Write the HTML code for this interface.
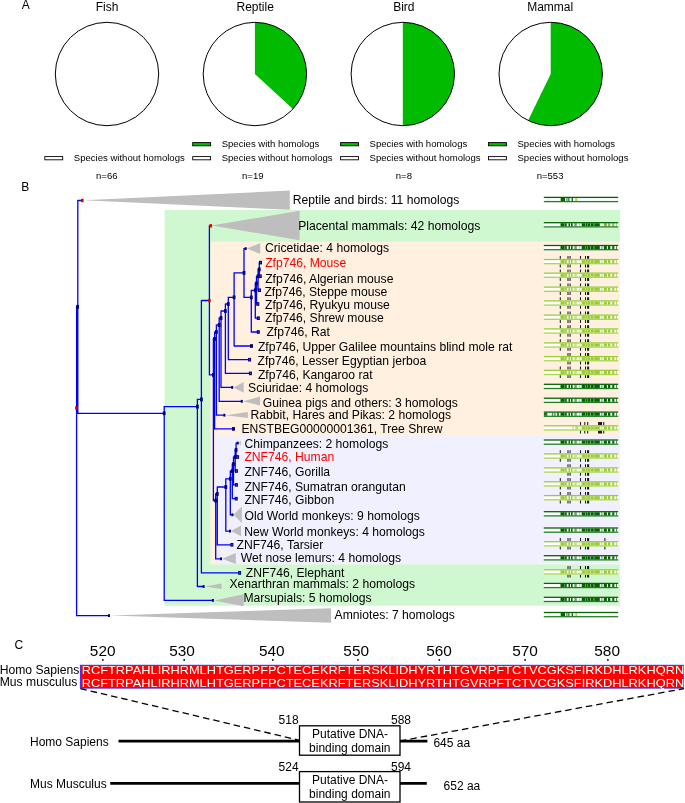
<!DOCTYPE html>
<html><head><meta charset="utf-8"><title>ZNF746 homologs</title>
<style>
html,body{margin:0;padding:0;background:#fff;}
svg{display:block;font-family:"Liberation Sans", Arial, sans-serif;}
text{fill:#000;}
.t12{font-size:12px;}
.tl{font-size:12.15px;}
.leg{font-size:9.55px;}
.seq{font-size:11.6px;fill:#fff;}
.rul{font-size:14px;text-anchor:middle;}
</style></head><body>
<svg width="685" height="803" viewBox="0 0 685 803">
<rect width="685" height="803" fill="#fff"/>
<text class="t12" x="21.8" y="8.8">A</text>
<text class="t12" x="107.0" y="10.8" text-anchor="middle">Fish</text>
<circle cx="107.0" cy="74.0" r="51.7" fill="#fff"/>
<circle cx="107.0" cy="74.0" r="51.7" fill="none" stroke="#000" stroke-width="1"/>
<rect x="44.8" y="156.6" width="17.9" height="3.2" fill="#fff" stroke="#000" stroke-width="0.9"/>
<text class="leg" x="73.8" y="161.1">Species without homologs</text>
<text class="leg" x="106.8" y="178.8" text-anchor="middle">n=66</text>
<text class="t12" x="255.2" y="10.8" text-anchor="middle">Reptile</text>
<circle cx="254.9" cy="74.0" r="51.7" fill="#fff"/>
<path d="M254.9,74.0 L254.9,22.299999999999997 A51.7,51.7 0 0 1 292.94,109.02 Z" fill="#00bb00"/>
<circle cx="254.9" cy="74.0" r="51.7" fill="none" stroke="#000" stroke-width="1"/>
<rect x="192.7" y="142.6" width="17.9" height="3.2" fill="#00bb00" stroke="#000" stroke-width="0.9"/>
<text class="leg" x="221.7" y="147.1">Species with homologs</text>
<rect x="192.7" y="156.6" width="17.9" height="3.2" fill="#fff" stroke="#000" stroke-width="0.9"/>
<text class="leg" x="221.7" y="161.1">Species without homologs</text>
<text class="leg" x="252.8" y="178.8" text-anchor="middle">n=19</text>
<text class="t12" x="403.8" y="10.8" text-anchor="middle">Bird</text>
<circle cx="402.8" cy="74.0" r="51.7" fill="#fff"/>
<path d="M402.8,74.0 L402.8,22.299999999999997 A51.7,51.7 0 0 1 402.80,125.70 Z" fill="#00bb00"/>
<circle cx="402.8" cy="74.0" r="51.7" fill="none" stroke="#000" stroke-width="1"/>
<rect x="340.6" y="142.6" width="17.9" height="3.2" fill="#00bb00" stroke="#000" stroke-width="0.9"/>
<text class="leg" x="369.6" y="147.1">Species with homologs</text>
<rect x="340.6" y="156.6" width="17.9" height="3.2" fill="#fff" stroke="#000" stroke-width="0.9"/>
<text class="leg" x="369.6" y="161.1">Species without homologs</text>
<text class="leg" x="403.9" y="178.8" text-anchor="middle">n=8</text>
<text class="t12" x="550.2" y="11.2" text-anchor="middle">Mammal</text>
<circle cx="550.7" cy="74.0" r="51.7" fill="#fff"/>
<path d="M550.7,74.0 L550.7,22.299999999999997 A51.7,51.7 0 1 1 528.10,120.50 Z" fill="#00bb00"/>
<circle cx="550.7" cy="74.0" r="51.7" fill="none" stroke="#000" stroke-width="1"/>
<rect x="488.5" y="142.6" width="17.9" height="3.2" fill="#00bb00" stroke="#000" stroke-width="0.9"/>
<text class="leg" x="517.5" y="147.1">Species with homologs</text>
<rect x="488.5" y="156.6" width="17.9" height="3.2" fill="#fff" stroke="#000" stroke-width="0.9"/>
<text class="leg" x="517.5" y="161.1">Species without homologs</text>
<text class="leg" x="550.1" y="178.8" text-anchor="middle">n=553</text>
<text class="t12" x="21.2" y="190.8">B</text>
<rect x="164.6" y="210" width="455.3" height="395.7" fill="#d0f8d0"/>
<rect x="210.4" y="241.7" width="409.5" height="322.6" fill="#fff0e0"/>
<rect x="215.3" y="436" width="404.6" height="128.3" fill="#f0f0ff"/>
<polygon points="83.5,200.3 289.8,190.6 289.8,209.8" fill="#bebebe"/>
<polygon points="211.8,225.6 299.6,210.7 299.6,240.2" fill="#bebebe"/>
<polygon points="246.8,248.6 260.2,243.1 260.2,254.0" fill="#bebebe"/>
<polygon points="233.5,387.4 243.7,381.9 243.7,392.8" fill="#bebebe"/>
<polygon points="243.0,401.3 260.0,396.6 260.0,405.6" fill="#bebebe"/>
<polygon points="225.5,415.2 247.9,412.0 247.9,418.0" fill="#bebebe"/>
<polygon points="238.8,443.1 240.9,440.5 240.9,445.8" fill="#bebebe"/>
<polygon points="233.6,514.8 241.8,506.4 241.8,523.0" fill="#bebebe"/>
<polygon points="231.0,531.1 241.0,525.5 241.0,536.2" fill="#bebebe"/>
<polygon points="222.0,558.8 235.8,553.0 235.8,564.0" fill="#bebebe"/>
<polygon points="204.6,586.5 221.6,583.4 221.6,589.0" fill="#bebebe"/>
<polygon points="214.0,600.4 243.7,594.3 243.7,606.2" fill="#bebebe"/>
<polygon points="110.0,615.6 331.1,608.2 331.1,622.8" fill="#bebebe"/>
<path d="M76.6,306.2V616.2M77.8,199.9V413.9M164.2,406.0V601.0M197.4,398.8V587.1M201.4,299.9V573.5M209.4,225.2V375.5M213.4,338.3V501.2M214.6,331.4V429.5M216.4,324.4V415.8M219.2,317.4V401.9M221.0,310.4V388.0M225.4,303.4V374.0M228.3,296.7V360.3M234.1,272.3V346.6M244.0,248.0V298.0M251.3,289.7V332.6M255.3,282.8V318.8M256.5,275.7V304.6M258.1,268.8V290.8M259.3,262.0V276.8M215.7,493.3V559.4M217.3,486.4V545.4M225.8,478.2V531.7M230.3,470.4V515.4M232.3,463.4V499.3M233.5,456.4V485.5M235.2,449.4V471.6M236.1,442.5V457.6M77.8,200.5H82M77.8,413.3H164.2M76.6,615.6H109M164.2,406.6H197.4M164.2,600.4H212.9M197.4,399.4H201.4M197.4,586.5H203.6M201.4,300.5H209.4M201.4,572.9H239.6M209.4,225.8H211M209.4,374.9H213.4M213.4,338.9H214.6M213.4,500.6H215.7M214.6,332.0H216.4M214.6,428.9H233.5M216.4,325.0H219.2M216.4,415.2H224.4M219.2,318.0H221.0M219.2,401.3H241.8M221.0,311.0H225.4M221.0,387.4H232.2M225.4,304.0H228.3M225.4,373.4H250.4M228.3,297.3H234.1M228.3,359.7H249.6M234.1,272.9H244.0M234.1,346.0H251.5M244.0,248.6H245.7M244.0,297.4H251.3M251.3,290.3H255.3M251.3,332.0H258.3M255.3,283.4H256.5M255.3,318.2H258.3M256.5,276.3H258.1M256.5,304.0H257.8M258.1,269.4H259.3M258.1,290.2H259.4M259.3,262.6H260.5M259.3,276.2H260.2M215.7,493.9H217.3M215.7,558.8H221.0M217.3,487.0H225.8M217.3,544.8H231.9M225.8,478.8H230.3M225.8,531.1H230.0M230.3,471.0H232.3M230.3,514.8H232.5M232.3,464.0H233.5M232.3,498.7H236.2M233.5,457.0H235.2M233.5,484.9H236.4M235.2,450.0H236.1M235.2,471.0H236.4M236.1,443.1H237.8M236.1,457.0H237.6" fill="none" stroke="#0000ff" stroke-width="1.3"/>
<rect x="76.2" y="304.9" width="2.8" height="3.8" fill="#000080"/>
<rect x="162.8" y="411.4" width="2.8" height="3.8" fill="#000080"/>
<rect x="196.0" y="404.7" width="2.8" height="3.8" fill="#000080"/>
<rect x="200.0" y="397.5" width="2.8" height="3.8" fill="#000080"/>
<rect x="212.0" y="373.0" width="2.8" height="3.8" fill="#000080"/>
<rect x="213.2" y="337.0" width="2.8" height="3.8" fill="#000080"/>
<rect x="215.0" y="330.1" width="2.8" height="3.8" fill="#000080"/>
<rect x="217.8" y="323.1" width="2.8" height="3.8" fill="#000080"/>
<rect x="219.6" y="316.1" width="2.8" height="3.8" fill="#000080"/>
<rect x="224.0" y="309.1" width="2.8" height="3.8" fill="#000080"/>
<rect x="226.9" y="302.1" width="2.8" height="3.8" fill="#000080"/>
<rect x="232.7" y="295.4" width="2.8" height="3.8" fill="#000080"/>
<rect x="242.6" y="271.0" width="2.8" height="3.8" fill="#000080"/>
<rect x="249.9" y="295.5" width="2.8" height="3.8" fill="#000080"/>
<rect x="253.9" y="288.4" width="2.8" height="3.8" fill="#000080"/>
<rect x="255.1" y="281.5" width="2.8" height="3.8" fill="#000080"/>
<rect x="256.7" y="274.4" width="2.8" height="3.8" fill="#000080"/>
<rect x="257.9" y="267.5" width="2.8" height="3.8" fill="#000080"/>
<rect x="214.3" y="498.7" width="2.8" height="3.8" fill="#000080"/>
<rect x="215.9" y="492.0" width="2.8" height="3.8" fill="#000080"/>
<rect x="224.4" y="485.1" width="2.8" height="3.8" fill="#000080"/>
<rect x="228.9" y="476.9" width="2.8" height="3.8" fill="#000080"/>
<rect x="230.9" y="469.1" width="2.8" height="3.8" fill="#000080"/>
<rect x="232.1" y="462.1" width="2.8" height="3.8" fill="#000080"/>
<rect x="233.8" y="455.1" width="2.8" height="3.8" fill="#000080"/>
<rect x="234.7" y="448.1" width="2.8" height="3.8" fill="#000080"/>
<rect x="244.7" y="247.2" width="2.0" height="2.8" fill="#000080"/>
<rect x="231.2" y="386.0" width="2.0" height="2.8" fill="#000080"/>
<rect x="240.8" y="399.9" width="2.0" height="2.8" fill="#000080"/>
<rect x="223.4" y="413.8" width="2.0" height="2.8" fill="#000080"/>
<rect x="236.8" y="441.7" width="2.0" height="2.8" fill="#000080"/>
<rect x="231.5" y="513.4" width="2.0" height="2.8" fill="#000080"/>
<rect x="229.0" y="529.7" width="2.0" height="2.8" fill="#000080"/>
<rect x="220.0" y="557.4" width="2.0" height="2.8" fill="#000080"/>
<rect x="202.6" y="585.1" width="2.0" height="2.8" fill="#000080"/>
<rect x="211.9" y="599.0" width="2.0" height="2.8" fill="#000080"/>
<rect x="108.0" y="614.2" width="2.0" height="2.8" fill="#000080"/>
<rect x="75.1" y="406.3" width="2.6" height="3.4" fill="#e00000"/>
<rect x="208.1" y="298.8" width="2.6" height="3.4" fill="#e00000"/>
<rect x="81.0" y="198.8" width="2.6" height="3.4" fill="#e00000"/>
<rect x="209.5" y="224.1" width="2.6" height="3.4" fill="#e00000"/>
<rect x="259.5" y="261.3" width="2.0" height="2.6" fill="#4a4aa8" stroke="#000080" stroke-width="1"/>
<rect x="259.2" y="274.9" width="2.0" height="2.6" fill="#4a4aa8" stroke="#000080" stroke-width="1"/>
<rect x="258.4" y="288.9" width="2.0" height="2.6" fill="#4a4aa8" stroke="#000080" stroke-width="1"/>
<rect x="256.8" y="302.7" width="2.0" height="2.6" fill="#4a4aa8" stroke="#000080" stroke-width="1"/>
<rect x="257.3" y="316.9" width="2.0" height="2.6" fill="#4a4aa8" stroke="#000080" stroke-width="1"/>
<rect x="257.3" y="330.7" width="2.0" height="2.6" fill="#4a4aa8" stroke="#000080" stroke-width="1"/>
<rect x="250.5" y="344.7" width="2.0" height="2.6" fill="#4a4aa8" stroke="#000080" stroke-width="1"/>
<rect x="248.6" y="358.4" width="2.0" height="2.6" fill="#4a4aa8" stroke="#000080" stroke-width="1"/>
<rect x="249.4" y="372.1" width="2.0" height="2.6" fill="#4a4aa8" stroke="#000080" stroke-width="1"/>
<rect x="232.5" y="427.6" width="2.0" height="2.6" fill="#4a4aa8" stroke="#000080" stroke-width="1"/>
<rect x="236.6" y="455.7" width="2.0" height="2.6" fill="#4a4aa8" stroke="#000080" stroke-width="1"/>
<rect x="235.4" y="469.7" width="2.0" height="2.6" fill="#4a4aa8" stroke="#000080" stroke-width="1"/>
<rect x="235.4" y="483.6" width="2.0" height="2.6" fill="#4a4aa8" stroke="#000080" stroke-width="1"/>
<rect x="235.2" y="497.4" width="2.0" height="2.6" fill="#4a4aa8" stroke="#000080" stroke-width="1"/>
<rect x="230.9" y="543.5" width="2.0" height="2.6" fill="#4a4aa8" stroke="#000080" stroke-width="1"/>
<rect x="238.6" y="571.6" width="2.0" height="2.6" fill="#4a4aa8" stroke="#000080" stroke-width="1"/>
<text class="tl" x="292.8" y="203.9">Reptile and birds: 11 homologs</text>
<text class="tl" x="298.2" y="229.9">Placental mammals: 42 homologs</text>
<text class="tl" x="264.9" y="252.4">Cricetidae: 4 homologs</text>
<text class="tl" x="265.2" y="267.2" fill="#ff0000" style="fill:#ff0000">Zfp746, Mouse</text>
<text class="tl" x="265.2" y="283.2">Zfp746, Algerian mouse</text>
<text class="tl" x="264.4" y="296.4">Zfp746, Steppe mouse</text>
<text class="tl" x="265.0" y="309.4">Zfp746, Ryukyu mouse</text>
<text class="tl" x="265.0" y="322.0">Zfp746, Shrew mouse</text>
<text class="tl" x="266.4" y="336.1">Zfp746, Rat</text>
<text class="tl" x="257.9" y="350.6">Zfp746, Upper Galilee mountains blind mole rat</text>
<text class="tl" x="257.5" y="365.0">Zfp746, Lesser Egyptian jerboa</text>
<text class="tl" x="257.9" y="378.6">Zfp746, Kangaroo rat</text>
<text class="tl" x="248.1" y="392.3">Sciuridae: 4 homologs</text>
<text class="tl" x="262.7" y="406.7">Guinea pigs and others: 3 homologs</text>
<text class="tl" x="250.6" y="419.3">Rabbit, Hares and Pikas: 2 homologs</text>
<text class="tl" x="241.5" y="433.0">ENSTBEG00000001361, Tree Shrew</text>
<text class="tl" x="244.5" y="447.5">Chimpanzees: 2 homologs</text>
<text class="tl" x="244.4" y="461.2" fill="#ff0000" style="fill:#ff0000">ZNF746, Human</text>
<text class="tl" x="244.4" y="476.0">ZNF746, Gorilla</text>
<text class="tl" x="244.4" y="490.9">ZNF746, Sumatran orangutan</text>
<text class="tl" x="244.4" y="504.4">ZNF746, Gibbon</text>
<text class="tl" x="244.6" y="520.2">Old World monkeys: 9 homologs</text>
<text class="tl" x="244.3" y="535.8">New World monkeys: 4 homologs</text>
<text class="tl" x="236.5" y="549.1">ZNF746, Tarsier</text>
<text class="tl" x="240.7" y="562.0">Wet nose lemurs: 4 homologs</text>
<text class="tl" x="245.8" y="577.1">ZNF746, Elephant</text>
<text class="tl" x="229.5" y="588.2">Xenarthran mammals: 2 homologs</text>
<text class="tl" x="243.4" y="602.4">Marsupials: 5 homologs</text>
<text class="tl" x="334.6" y="619.0">Amniotes: 7 homologs</text>
<rect x="543.8" y="196.75" width="74.4" height="5.5" fill="#fff"/>
<rect x="560.7" y="197.95" width="4.3" height="3.1" fill="#006400"/>
<rect x="566.5" y="197.95" width="0.9" height="3.1" fill="#006400"/>
<rect x="568.3" y="197.95" width="1.1" height="3.1" fill="#006400"/>
<rect x="571.6" y="197.95" width="1.4" height="3.1" fill="#006400" opacity="0.9"/>
<rect x="547.5" y="197.95" width="0.7" height="3.1" fill="#006400" opacity="0.15"/>
<rect x="549.5" y="197.95" width="0.7" height="3.1" fill="#006400" opacity="0.15"/>
<rect x="575.3" y="197.95" width="1.9" height="3.1" fill="#9acd32" opacity="0.8"/>
<rect x="543.8" y="196.75" width="74.4" height="1.3" fill="#006400"/>
<rect x="543.8" y="200.95" width="74.4" height="1.3" fill="#006400" opacity="0.85"/>
<rect x="543.8" y="222.05" width="74.4" height="5.5" fill="#fff"/>
<rect x="560.5" y="223.25" width="3.7" height="3.1" fill="#006400"/>
<rect x="564.2" y="223.25" width="0.9" height="3.1" fill="#006400" opacity="0.75"/>
<rect x="565.1" y="223.25" width="1.7" height="3.1" fill="#006400"/>
<rect x="568.5" y="223.25" width="1.5" height="3.1" fill="#006400"/>
<rect x="571.0" y="223.25" width="1.6" height="3.1" fill="#006400"/>
<rect x="574.3" y="223.25" width="2.5" height="3.1" fill="#006400" opacity="0.6"/>
<rect x="579.0" y="223.25" width="1.0" height="3.1" fill="#006400" opacity="0.3"/>
<rect x="581.7" y="223.25" width="3.4" height="3.1" fill="#006400"/>
<rect x="585.1" y="223.25" width="0.6" height="3.1" fill="#006400" opacity="0.65"/>
<rect x="585.7" y="223.25" width="1.7" height="3.1" fill="#006400"/>
<rect x="587.4" y="223.25" width="0.5" height="3.1" fill="#006400" opacity="0.8"/>
<rect x="587.9" y="223.25" width="2.1" height="3.1" fill="#006400"/>
<rect x="590.0" y="223.25" width="0.6" height="3.1" fill="#006400" opacity="0.35"/>
<rect x="590.6" y="223.25" width="3.1" height="3.1" fill="#006400"/>
<rect x="593.7" y="223.25" width="0.6" height="3.1" fill="#006400" opacity="0.6"/>
<rect x="594.3" y="223.25" width="5.5" height="3.1" fill="#006400"/>
<rect x="604.0" y="223.25" width="2.8" height="3.1" fill="#6aa81e" opacity="0.9"/>
<rect x="608.0" y="223.25" width="2.3" height="3.1" fill="#6aa81e" opacity="0.8"/>
<rect x="612.3" y="223.25" width="2.0" height="3.1" fill="#6aa81e" opacity="0.8"/>
<rect x="616.2" y="223.25" width="0.8" height="3.1" fill="#6aa81e" opacity="0.7"/>
<rect x="543.8" y="222.05" width="74.4" height="1.3" fill="#006400"/>
<rect x="543.8" y="226.25" width="74.4" height="1.3" fill="#006400" opacity="0.85"/>
<rect x="543.8" y="244.85" width="74.4" height="5.5" fill="#fff"/>
<rect x="560.5" y="246.05" width="3.7" height="3.1" fill="#006400"/>
<rect x="564.2" y="246.05" width="0.9" height="3.1" fill="#006400" opacity="0.75"/>
<rect x="565.1" y="246.05" width="1.7" height="3.1" fill="#006400"/>
<rect x="568.5" y="246.05" width="1.5" height="3.1" fill="#006400"/>
<rect x="571.0" y="246.05" width="1.6" height="3.1" fill="#006400"/>
<rect x="574.3" y="246.05" width="2.5" height="3.1" fill="#006400" opacity="0.6"/>
<rect x="579.0" y="246.05" width="1.0" height="3.1" fill="#006400" opacity="0.3"/>
<rect x="581.7" y="246.05" width="3.4" height="3.1" fill="#006400"/>
<rect x="585.1" y="246.05" width="0.6" height="3.1" fill="#006400" opacity="0.65"/>
<rect x="585.7" y="246.05" width="1.7" height="3.1" fill="#006400"/>
<rect x="587.4" y="246.05" width="0.5" height="3.1" fill="#006400" opacity="0.8"/>
<rect x="587.9" y="246.05" width="2.1" height="3.1" fill="#006400"/>
<rect x="590.0" y="246.05" width="0.6" height="3.1" fill="#006400" opacity="0.35"/>
<rect x="590.6" y="246.05" width="3.1" height="3.1" fill="#006400"/>
<rect x="593.7" y="246.05" width="0.6" height="3.1" fill="#006400" opacity="0.6"/>
<rect x="594.3" y="246.05" width="5.5" height="3.1" fill="#006400"/>
<rect x="601.5" y="246.05" width="0.8" height="3.1" fill="#006400" opacity="0.9"/>
<rect x="603.8" y="246.05" width="3.1" height="3.1" fill="#006400"/>
<rect x="608.0" y="246.05" width="2.3" height="3.1" fill="#006400"/>
<rect x="612.3" y="246.05" width="2.0" height="3.1" fill="#006400"/>
<rect x="616.2" y="246.05" width="0.8" height="3.1" fill="#006400" opacity="0.9"/>
<rect x="543.8" y="244.85" width="74.4" height="1.3" fill="#006400"/>
<rect x="543.8" y="249.05" width="74.4" height="1.3" fill="#006400" opacity="0.85"/>
<path d="M560.3,255.9V267.4M568.0,255.9V267.4M570.1,255.9V267.4M580.5,255.9V267.4M585.5,255.9V267.4M587.6,255.9V267.4M588.6,255.9V267.4" stroke="#1c1c1c" stroke-width="1.05" fill="none"/>
<rect x="543.8" y="258.85" width="74.4" height="5.5" fill="#fff"/>
<rect x="560.5" y="260.05" width="3.7" height="3.1" fill="#9acd32"/>
<rect x="564.2" y="260.05" width="0.9" height="3.1" fill="#9acd32" opacity="0.75"/>
<rect x="565.1" y="260.05" width="1.7" height="3.1" fill="#9acd32"/>
<rect x="568.5" y="260.05" width="1.5" height="3.1" fill="#9acd32"/>
<rect x="571.0" y="260.05" width="1.6" height="3.1" fill="#9acd32"/>
<rect x="574.3" y="260.05" width="2.5" height="3.1" fill="#9acd32" opacity="0.6"/>
<rect x="579.0" y="260.05" width="1.0" height="3.1" fill="#9acd32" opacity="0.3"/>
<rect x="581.7" y="260.05" width="3.4" height="3.1" fill="#9acd32"/>
<rect x="585.1" y="260.05" width="0.6" height="3.1" fill="#9acd32" opacity="0.65"/>
<rect x="585.7" y="260.05" width="1.7" height="3.1" fill="#9acd32"/>
<rect x="587.4" y="260.05" width="0.5" height="3.1" fill="#9acd32" opacity="0.8"/>
<rect x="587.9" y="260.05" width="2.1" height="3.1" fill="#9acd32"/>
<rect x="590.0" y="260.05" width="0.6" height="3.1" fill="#9acd32" opacity="0.35"/>
<rect x="590.6" y="260.05" width="3.1" height="3.1" fill="#9acd32"/>
<rect x="593.7" y="260.05" width="0.6" height="3.1" fill="#9acd32" opacity="0.6"/>
<rect x="594.3" y="260.05" width="5.5" height="3.1" fill="#9acd32"/>
<rect x="601.5" y="260.05" width="0.8" height="3.1" fill="#9acd32" opacity="0.9"/>
<rect x="603.8" y="260.05" width="3.1" height="3.1" fill="#9acd32"/>
<rect x="608.0" y="260.05" width="2.3" height="3.1" fill="#9acd32"/>
<rect x="612.3" y="260.05" width="2.0" height="3.1" fill="#9acd32"/>
<rect x="616.2" y="260.05" width="0.8" height="3.1" fill="#9acd32" opacity="0.9"/>
<rect x="543.8" y="258.85" width="74.4" height="1.3" fill="#9acd32"/>
<rect x="543.8" y="263.05" width="74.4" height="1.3" fill="#9acd32" opacity="0.85"/>
<path d="M560.3,269.4V280.9M568.0,269.4V280.9M570.1,269.4V280.9M580.5,269.4V280.9M585.5,269.4V280.9M587.6,269.4V280.9M588.6,269.4V280.9" stroke="#1c1c1c" stroke-width="1.05" fill="none"/>
<rect x="543.8" y="272.45" width="74.4" height="5.5" fill="#fff"/>
<rect x="560.5" y="273.65" width="3.7" height="3.1" fill="#9acd32"/>
<rect x="564.2" y="273.65" width="0.9" height="3.1" fill="#9acd32" opacity="0.75"/>
<rect x="565.1" y="273.65" width="1.7" height="3.1" fill="#9acd32"/>
<rect x="568.5" y="273.65" width="1.5" height="3.1" fill="#9acd32"/>
<rect x="571.0" y="273.65" width="1.6" height="3.1" fill="#9acd32"/>
<rect x="574.3" y="273.65" width="2.5" height="3.1" fill="#9acd32" opacity="0.6"/>
<rect x="579.0" y="273.65" width="1.0" height="3.1" fill="#9acd32" opacity="0.3"/>
<rect x="581.7" y="273.65" width="3.4" height="3.1" fill="#9acd32"/>
<rect x="585.1" y="273.65" width="0.6" height="3.1" fill="#9acd32" opacity="0.65"/>
<rect x="585.7" y="273.65" width="1.7" height="3.1" fill="#9acd32"/>
<rect x="587.4" y="273.65" width="0.5" height="3.1" fill="#9acd32" opacity="0.8"/>
<rect x="587.9" y="273.65" width="2.1" height="3.1" fill="#9acd32"/>
<rect x="590.0" y="273.65" width="0.6" height="3.1" fill="#9acd32" opacity="0.35"/>
<rect x="590.6" y="273.65" width="3.1" height="3.1" fill="#9acd32"/>
<rect x="593.7" y="273.65" width="0.6" height="3.1" fill="#9acd32" opacity="0.6"/>
<rect x="594.3" y="273.65" width="5.5" height="3.1" fill="#9acd32"/>
<rect x="601.5" y="273.65" width="0.8" height="3.1" fill="#9acd32" opacity="0.9"/>
<rect x="603.8" y="273.65" width="3.1" height="3.1" fill="#9acd32"/>
<rect x="608.0" y="273.65" width="2.3" height="3.1" fill="#9acd32"/>
<rect x="612.3" y="273.65" width="2.0" height="3.1" fill="#9acd32"/>
<rect x="616.2" y="273.65" width="0.8" height="3.1" fill="#9acd32" opacity="0.9"/>
<rect x="543.8" y="272.45" width="74.4" height="1.3" fill="#9acd32"/>
<rect x="543.8" y="276.65" width="74.4" height="1.3" fill="#9acd32" opacity="0.85"/>
<path d="M560.3,283.4V294.9M568.0,283.4V294.9M570.1,283.4V294.9M580.5,283.4V294.9M585.5,283.4V294.9M587.6,283.4V294.9M588.6,283.4V294.9" stroke="#1c1c1c" stroke-width="1.05" fill="none"/>
<rect x="543.8" y="286.45" width="74.4" height="5.5" fill="#fff"/>
<rect x="560.5" y="287.65" width="3.7" height="3.1" fill="#9acd32"/>
<rect x="564.2" y="287.65" width="0.9" height="3.1" fill="#9acd32" opacity="0.75"/>
<rect x="565.1" y="287.65" width="1.7" height="3.1" fill="#9acd32"/>
<rect x="568.5" y="287.65" width="1.5" height="3.1" fill="#9acd32"/>
<rect x="571.0" y="287.65" width="1.6" height="3.1" fill="#9acd32"/>
<rect x="574.3" y="287.65" width="2.5" height="3.1" fill="#9acd32" opacity="0.6"/>
<rect x="579.0" y="287.65" width="1.0" height="3.1" fill="#9acd32" opacity="0.3"/>
<rect x="581.7" y="287.65" width="3.4" height="3.1" fill="#9acd32"/>
<rect x="585.1" y="287.65" width="0.6" height="3.1" fill="#9acd32" opacity="0.65"/>
<rect x="585.7" y="287.65" width="1.7" height="3.1" fill="#9acd32"/>
<rect x="587.4" y="287.65" width="0.5" height="3.1" fill="#9acd32" opacity="0.8"/>
<rect x="587.9" y="287.65" width="2.1" height="3.1" fill="#9acd32"/>
<rect x="590.0" y="287.65" width="0.6" height="3.1" fill="#9acd32" opacity="0.35"/>
<rect x="590.6" y="287.65" width="3.1" height="3.1" fill="#9acd32"/>
<rect x="593.7" y="287.65" width="0.6" height="3.1" fill="#9acd32" opacity="0.6"/>
<rect x="594.3" y="287.65" width="5.5" height="3.1" fill="#9acd32"/>
<rect x="601.5" y="287.65" width="0.8" height="3.1" fill="#9acd32" opacity="0.9"/>
<rect x="603.8" y="287.65" width="3.1" height="3.1" fill="#9acd32"/>
<rect x="608.0" y="287.65" width="2.3" height="3.1" fill="#9acd32"/>
<rect x="612.3" y="287.65" width="2.0" height="3.1" fill="#9acd32"/>
<rect x="616.2" y="287.65" width="0.8" height="3.1" fill="#9acd32" opacity="0.9"/>
<rect x="543.8" y="286.45" width="74.4" height="1.3" fill="#9acd32"/>
<rect x="543.8" y="290.65" width="74.4" height="1.3" fill="#9acd32" opacity="0.85"/>
<path d="M560.3,297.2V308.8M568.0,297.2V308.8M570.1,297.2V308.8M580.5,297.2V308.8M585.5,297.2V308.8M587.6,297.2V308.8M588.6,297.2V308.8" stroke="#1c1c1c" stroke-width="1.05" fill="none"/>
<rect x="543.8" y="300.25" width="74.4" height="5.5" fill="#fff"/>
<rect x="560.5" y="301.45" width="3.7" height="3.1" fill="#9acd32"/>
<rect x="564.2" y="301.45" width="0.9" height="3.1" fill="#9acd32" opacity="0.75"/>
<rect x="565.1" y="301.45" width="1.7" height="3.1" fill="#9acd32"/>
<rect x="568.5" y="301.45" width="1.5" height="3.1" fill="#9acd32"/>
<rect x="571.0" y="301.45" width="1.6" height="3.1" fill="#9acd32"/>
<rect x="574.3" y="301.45" width="2.5" height="3.1" fill="#9acd32" opacity="0.6"/>
<rect x="579.0" y="301.45" width="1.0" height="3.1" fill="#9acd32" opacity="0.3"/>
<rect x="581.7" y="301.45" width="3.4" height="3.1" fill="#9acd32"/>
<rect x="585.1" y="301.45" width="0.6" height="3.1" fill="#9acd32" opacity="0.65"/>
<rect x="585.7" y="301.45" width="1.7" height="3.1" fill="#9acd32"/>
<rect x="587.4" y="301.45" width="0.5" height="3.1" fill="#9acd32" opacity="0.8"/>
<rect x="587.9" y="301.45" width="2.1" height="3.1" fill="#9acd32"/>
<rect x="590.0" y="301.45" width="0.6" height="3.1" fill="#9acd32" opacity="0.35"/>
<rect x="590.6" y="301.45" width="3.1" height="3.1" fill="#9acd32"/>
<rect x="593.7" y="301.45" width="0.6" height="3.1" fill="#9acd32" opacity="0.6"/>
<rect x="594.3" y="301.45" width="5.5" height="3.1" fill="#9acd32"/>
<rect x="601.5" y="301.45" width="0.8" height="3.1" fill="#9acd32" opacity="0.9"/>
<rect x="603.8" y="301.45" width="3.1" height="3.1" fill="#9acd32"/>
<rect x="608.0" y="301.45" width="2.3" height="3.1" fill="#9acd32"/>
<rect x="612.3" y="301.45" width="2.0" height="3.1" fill="#9acd32"/>
<rect x="616.2" y="301.45" width="0.8" height="3.1" fill="#9acd32" opacity="0.9"/>
<rect x="543.8" y="300.25" width="74.4" height="1.3" fill="#9acd32"/>
<rect x="543.8" y="304.45" width="74.4" height="1.3" fill="#9acd32" opacity="0.85"/>
<path d="M560.3,311.4V322.9M568.0,311.4V322.9M570.1,311.4V322.9M580.5,311.4V322.9M585.5,311.4V322.9M587.6,311.4V322.9M588.6,311.4V322.9" stroke="#1c1c1c" stroke-width="1.05" fill="none"/>
<rect x="543.8" y="314.45" width="74.4" height="5.5" fill="#fff"/>
<rect x="560.5" y="315.65" width="3.7" height="3.1" fill="#9acd32"/>
<rect x="564.2" y="315.65" width="0.9" height="3.1" fill="#9acd32" opacity="0.75"/>
<rect x="565.1" y="315.65" width="1.7" height="3.1" fill="#9acd32"/>
<rect x="568.5" y="315.65" width="1.5" height="3.1" fill="#9acd32"/>
<rect x="571.0" y="315.65" width="1.6" height="3.1" fill="#9acd32"/>
<rect x="574.3" y="315.65" width="2.5" height="3.1" fill="#9acd32" opacity="0.6"/>
<rect x="579.0" y="315.65" width="1.0" height="3.1" fill="#9acd32" opacity="0.3"/>
<rect x="581.7" y="315.65" width="3.4" height="3.1" fill="#9acd32"/>
<rect x="585.1" y="315.65" width="0.6" height="3.1" fill="#9acd32" opacity="0.65"/>
<rect x="585.7" y="315.65" width="1.7" height="3.1" fill="#9acd32"/>
<rect x="587.4" y="315.65" width="0.5" height="3.1" fill="#9acd32" opacity="0.8"/>
<rect x="587.9" y="315.65" width="2.1" height="3.1" fill="#9acd32"/>
<rect x="590.0" y="315.65" width="0.6" height="3.1" fill="#9acd32" opacity="0.35"/>
<rect x="590.6" y="315.65" width="3.1" height="3.1" fill="#9acd32"/>
<rect x="593.7" y="315.65" width="0.6" height="3.1" fill="#9acd32" opacity="0.6"/>
<rect x="594.3" y="315.65" width="5.5" height="3.1" fill="#9acd32"/>
<rect x="601.5" y="315.65" width="0.8" height="3.1" fill="#9acd32" opacity="0.9"/>
<rect x="603.8" y="315.65" width="3.1" height="3.1" fill="#9acd32"/>
<rect x="608.0" y="315.65" width="2.3" height="3.1" fill="#9acd32"/>
<rect x="612.3" y="315.65" width="2.0" height="3.1" fill="#9acd32"/>
<rect x="616.2" y="315.65" width="0.8" height="3.1" fill="#9acd32" opacity="0.9"/>
<rect x="543.8" y="314.45" width="74.4" height="1.3" fill="#9acd32"/>
<rect x="543.8" y="318.65" width="74.4" height="1.3" fill="#9acd32" opacity="0.85"/>
<path d="M560.3,325.2V336.8M568.0,325.2V336.8M570.1,325.2V336.8M580.5,325.2V336.8M585.5,325.2V336.8M587.6,325.2V336.8M588.6,325.2V336.8" stroke="#1c1c1c" stroke-width="1.05" fill="none"/>
<rect x="543.8" y="328.25" width="74.4" height="5.5" fill="#fff"/>
<rect x="560.5" y="329.45" width="3.7" height="3.1" fill="#9acd32"/>
<rect x="564.2" y="329.45" width="0.9" height="3.1" fill="#9acd32" opacity="0.75"/>
<rect x="565.1" y="329.45" width="1.7" height="3.1" fill="#9acd32"/>
<rect x="568.5" y="329.45" width="1.5" height="3.1" fill="#9acd32"/>
<rect x="571.0" y="329.45" width="1.6" height="3.1" fill="#9acd32"/>
<rect x="574.3" y="329.45" width="2.5" height="3.1" fill="#9acd32" opacity="0.6"/>
<rect x="579.0" y="329.45" width="1.0" height="3.1" fill="#9acd32" opacity="0.3"/>
<rect x="581.7" y="329.45" width="3.4" height="3.1" fill="#9acd32"/>
<rect x="585.1" y="329.45" width="0.6" height="3.1" fill="#9acd32" opacity="0.65"/>
<rect x="585.7" y="329.45" width="1.7" height="3.1" fill="#9acd32"/>
<rect x="587.4" y="329.45" width="0.5" height="3.1" fill="#9acd32" opacity="0.8"/>
<rect x="587.9" y="329.45" width="2.1" height="3.1" fill="#9acd32"/>
<rect x="590.0" y="329.45" width="0.6" height="3.1" fill="#9acd32" opacity="0.35"/>
<rect x="590.6" y="329.45" width="3.1" height="3.1" fill="#9acd32"/>
<rect x="593.7" y="329.45" width="0.6" height="3.1" fill="#9acd32" opacity="0.6"/>
<rect x="594.3" y="329.45" width="5.5" height="3.1" fill="#9acd32"/>
<rect x="601.5" y="329.45" width="0.8" height="3.1" fill="#9acd32" opacity="0.9"/>
<rect x="603.8" y="329.45" width="3.1" height="3.1" fill="#9acd32"/>
<rect x="608.0" y="329.45" width="2.3" height="3.1" fill="#9acd32"/>
<rect x="612.3" y="329.45" width="2.0" height="3.1" fill="#9acd32"/>
<rect x="616.2" y="329.45" width="0.8" height="3.1" fill="#9acd32" opacity="0.9"/>
<rect x="543.8" y="328.25" width="74.4" height="1.3" fill="#9acd32"/>
<rect x="543.8" y="332.45" width="74.4" height="1.3" fill="#9acd32" opacity="0.85"/>
<path d="M560.3,339.2V350.8M568.0,339.2V350.8M570.1,339.2V350.8M580.5,339.2V350.8M585.5,339.2V350.8M587.6,339.2V350.8M588.6,339.2V350.8" stroke="#1c1c1c" stroke-width="1.05" fill="none"/>
<rect x="543.8" y="342.25" width="74.4" height="5.5" fill="#fff"/>
<rect x="560.5" y="343.45" width="3.7" height="3.1" fill="#9acd32"/>
<rect x="564.2" y="343.45" width="0.9" height="3.1" fill="#9acd32" opacity="0.75"/>
<rect x="565.1" y="343.45" width="1.7" height="3.1" fill="#9acd32"/>
<rect x="568.5" y="343.45" width="1.5" height="3.1" fill="#9acd32"/>
<rect x="571.0" y="343.45" width="1.6" height="3.1" fill="#9acd32"/>
<rect x="574.3" y="343.45" width="2.5" height="3.1" fill="#9acd32" opacity="0.6"/>
<rect x="579.0" y="343.45" width="1.0" height="3.1" fill="#9acd32" opacity="0.3"/>
<rect x="581.7" y="343.45" width="3.4" height="3.1" fill="#9acd32"/>
<rect x="585.1" y="343.45" width="0.6" height="3.1" fill="#9acd32" opacity="0.65"/>
<rect x="585.7" y="343.45" width="1.7" height="3.1" fill="#9acd32"/>
<rect x="587.4" y="343.45" width="0.5" height="3.1" fill="#9acd32" opacity="0.8"/>
<rect x="587.9" y="343.45" width="2.1" height="3.1" fill="#9acd32"/>
<rect x="590.0" y="343.45" width="0.6" height="3.1" fill="#9acd32" opacity="0.35"/>
<rect x="590.6" y="343.45" width="3.1" height="3.1" fill="#9acd32"/>
<rect x="593.7" y="343.45" width="0.6" height="3.1" fill="#9acd32" opacity="0.6"/>
<rect x="594.3" y="343.45" width="5.5" height="3.1" fill="#9acd32"/>
<rect x="601.5" y="343.45" width="0.8" height="3.1" fill="#9acd32" opacity="0.9"/>
<rect x="603.8" y="343.45" width="3.1" height="3.1" fill="#9acd32"/>
<rect x="608.0" y="343.45" width="2.3" height="3.1" fill="#9acd32"/>
<rect x="612.3" y="343.45" width="2.0" height="3.1" fill="#9acd32"/>
<rect x="616.2" y="343.45" width="0.8" height="3.1" fill="#9acd32" opacity="0.9"/>
<rect x="543.8" y="342.25" width="74.4" height="1.3" fill="#9acd32"/>
<rect x="543.8" y="346.45" width="74.4" height="1.3" fill="#9acd32" opacity="0.85"/>
<path d="M568.0,352.9V364.4M570.1,352.9V364.4M580.5,352.9V364.4M585.5,352.9V364.4M587.6,352.9V364.4M588.6,352.9V364.4" stroke="#1c1c1c" stroke-width="1.05" fill="none"/>
<rect x="543.8" y="355.95" width="74.4" height="5.5" fill="#fff"/>
<rect x="560.5" y="357.15" width="3.7" height="3.1" fill="#9acd32"/>
<rect x="564.2" y="357.15" width="0.9" height="3.1" fill="#9acd32" opacity="0.75"/>
<rect x="565.1" y="357.15" width="1.7" height="3.1" fill="#9acd32"/>
<rect x="568.5" y="357.15" width="1.5" height="3.1" fill="#9acd32"/>
<rect x="571.0" y="357.15" width="1.6" height="3.1" fill="#9acd32"/>
<rect x="574.3" y="357.15" width="2.5" height="3.1" fill="#9acd32" opacity="0.6"/>
<rect x="579.0" y="357.15" width="1.0" height="3.1" fill="#9acd32" opacity="0.3"/>
<rect x="581.7" y="357.15" width="3.4" height="3.1" fill="#9acd32"/>
<rect x="585.1" y="357.15" width="0.6" height="3.1" fill="#9acd32" opacity="0.65"/>
<rect x="585.7" y="357.15" width="1.7" height="3.1" fill="#9acd32"/>
<rect x="587.4" y="357.15" width="0.5" height="3.1" fill="#9acd32" opacity="0.8"/>
<rect x="587.9" y="357.15" width="2.1" height="3.1" fill="#9acd32"/>
<rect x="590.0" y="357.15" width="0.6" height="3.1" fill="#9acd32" opacity="0.35"/>
<rect x="590.6" y="357.15" width="3.1" height="3.1" fill="#9acd32"/>
<rect x="593.7" y="357.15" width="0.6" height="3.1" fill="#9acd32" opacity="0.6"/>
<rect x="594.3" y="357.15" width="5.5" height="3.1" fill="#9acd32"/>
<rect x="601.5" y="357.15" width="0.8" height="3.1" fill="#9acd32" opacity="0.9"/>
<rect x="603.8" y="357.15" width="3.1" height="3.1" fill="#9acd32"/>
<rect x="608.0" y="357.15" width="2.3" height="3.1" fill="#9acd32"/>
<rect x="612.3" y="357.15" width="2.0" height="3.1" fill="#9acd32"/>
<rect x="616.2" y="357.15" width="0.8" height="3.1" fill="#9acd32" opacity="0.9"/>
<rect x="543.8" y="355.95" width="74.4" height="1.3" fill="#9acd32"/>
<rect x="543.8" y="360.15" width="74.4" height="1.3" fill="#9acd32" opacity="0.85"/>
<path d="M560.3,366.6V378.1M568.0,366.6V378.1M570.1,366.6V378.1M580.5,366.6V378.1M585.5,366.6V378.1M587.6,366.6V378.1M588.6,366.6V378.1" stroke="#1c1c1c" stroke-width="1.05" fill="none"/>
<rect x="543.8" y="369.65" width="74.4" height="5.5" fill="#fff"/>
<rect x="560.5" y="370.85" width="3.7" height="3.1" fill="#9acd32"/>
<rect x="564.2" y="370.85" width="0.9" height="3.1" fill="#9acd32" opacity="0.75"/>
<rect x="565.1" y="370.85" width="1.7" height="3.1" fill="#9acd32"/>
<rect x="568.5" y="370.85" width="1.5" height="3.1" fill="#9acd32"/>
<rect x="571.0" y="370.85" width="1.6" height="3.1" fill="#9acd32"/>
<rect x="574.3" y="370.85" width="2.5" height="3.1" fill="#9acd32" opacity="0.6"/>
<rect x="579.0" y="370.85" width="1.0" height="3.1" fill="#9acd32" opacity="0.3"/>
<rect x="581.7" y="370.85" width="3.4" height="3.1" fill="#9acd32"/>
<rect x="585.1" y="370.85" width="0.6" height="3.1" fill="#9acd32" opacity="0.65"/>
<rect x="585.7" y="370.85" width="1.7" height="3.1" fill="#9acd32"/>
<rect x="587.4" y="370.85" width="0.5" height="3.1" fill="#9acd32" opacity="0.8"/>
<rect x="587.9" y="370.85" width="2.1" height="3.1" fill="#9acd32"/>
<rect x="590.0" y="370.85" width="0.6" height="3.1" fill="#9acd32" opacity="0.35"/>
<rect x="590.6" y="370.85" width="3.1" height="3.1" fill="#9acd32"/>
<rect x="593.7" y="370.85" width="0.6" height="3.1" fill="#9acd32" opacity="0.6"/>
<rect x="594.3" y="370.85" width="5.5" height="3.1" fill="#9acd32"/>
<rect x="601.5" y="370.85" width="0.8" height="3.1" fill="#9acd32" opacity="0.9"/>
<rect x="603.8" y="370.85" width="3.1" height="3.1" fill="#9acd32"/>
<rect x="608.0" y="370.85" width="2.3" height="3.1" fill="#9acd32"/>
<rect x="612.3" y="370.85" width="2.0" height="3.1" fill="#9acd32"/>
<rect x="616.2" y="370.85" width="0.8" height="3.1" fill="#9acd32" opacity="0.9"/>
<rect x="543.8" y="369.65" width="74.4" height="1.3" fill="#9acd32"/>
<rect x="543.8" y="373.85" width="74.4" height="1.3" fill="#9acd32" opacity="0.85"/>
<rect x="543.8" y="383.65" width="74.4" height="5.5" fill="#fff"/>
<rect x="560.5" y="384.85" width="3.7" height="3.1" fill="#006400"/>
<rect x="564.2" y="384.85" width="0.9" height="3.1" fill="#006400" opacity="0.75"/>
<rect x="565.1" y="384.85" width="1.7" height="3.1" fill="#006400"/>
<rect x="568.5" y="384.85" width="1.5" height="3.1" fill="#006400"/>
<rect x="571.0" y="384.85" width="1.6" height="3.1" fill="#006400"/>
<rect x="574.3" y="384.85" width="2.5" height="3.1" fill="#006400" opacity="0.6"/>
<rect x="579.0" y="384.85" width="1.0" height="3.1" fill="#006400" opacity="0.3"/>
<rect x="581.7" y="384.85" width="3.4" height="3.1" fill="#006400"/>
<rect x="585.1" y="384.85" width="0.6" height="3.1" fill="#006400" opacity="0.65"/>
<rect x="585.7" y="384.85" width="1.7" height="3.1" fill="#006400"/>
<rect x="587.4" y="384.85" width="0.5" height="3.1" fill="#006400" opacity="0.8"/>
<rect x="587.9" y="384.85" width="2.1" height="3.1" fill="#006400"/>
<rect x="590.0" y="384.85" width="0.6" height="3.1" fill="#006400" opacity="0.35"/>
<rect x="590.6" y="384.85" width="3.1" height="3.1" fill="#006400"/>
<rect x="593.7" y="384.85" width="0.6" height="3.1" fill="#006400" opacity="0.6"/>
<rect x="594.3" y="384.85" width="5.5" height="3.1" fill="#006400"/>
<rect x="601.5" y="384.85" width="0.8" height="3.1" fill="#006400" opacity="0.9"/>
<rect x="603.8" y="384.85" width="3.1" height="3.1" fill="#006400"/>
<rect x="608.0" y="384.85" width="2.3" height="3.1" fill="#006400"/>
<rect x="612.3" y="384.85" width="2.0" height="3.1" fill="#006400"/>
<rect x="616.2" y="384.85" width="0.8" height="3.1" fill="#006400" opacity="0.9"/>
<rect x="543.8" y="383.65" width="74.4" height="1.3" fill="#006400"/>
<rect x="543.8" y="387.85" width="74.4" height="1.3" fill="#006400" opacity="0.85"/>
<rect x="543.8" y="397.55" width="74.4" height="5.5" fill="#fff"/>
<rect x="560.5" y="398.75" width="3.7" height="3.1" fill="#006400"/>
<rect x="564.2" y="398.75" width="0.9" height="3.1" fill="#006400" opacity="0.75"/>
<rect x="565.1" y="398.75" width="1.7" height="3.1" fill="#006400"/>
<rect x="568.5" y="398.75" width="1.5" height="3.1" fill="#006400"/>
<rect x="571.0" y="398.75" width="1.6" height="3.1" fill="#006400"/>
<rect x="574.3" y="398.75" width="2.5" height="3.1" fill="#006400" opacity="0.6"/>
<rect x="579.0" y="398.75" width="1.0" height="3.1" fill="#006400" opacity="0.3"/>
<rect x="581.7" y="398.75" width="3.4" height="3.1" fill="#006400"/>
<rect x="585.1" y="398.75" width="0.6" height="3.1" fill="#006400" opacity="0.65"/>
<rect x="585.7" y="398.75" width="1.7" height="3.1" fill="#006400"/>
<rect x="587.4" y="398.75" width="0.5" height="3.1" fill="#006400" opacity="0.8"/>
<rect x="587.9" y="398.75" width="2.1" height="3.1" fill="#006400"/>
<rect x="590.0" y="398.75" width="0.6" height="3.1" fill="#006400" opacity="0.35"/>
<rect x="590.6" y="398.75" width="3.1" height="3.1" fill="#006400"/>
<rect x="593.7" y="398.75" width="0.6" height="3.1" fill="#006400" opacity="0.6"/>
<rect x="594.3" y="398.75" width="5.5" height="3.1" fill="#006400"/>
<rect x="601.5" y="398.75" width="0.8" height="3.1" fill="#006400" opacity="0.9"/>
<rect x="603.8" y="398.75" width="3.1" height="3.1" fill="#006400"/>
<rect x="608.0" y="398.75" width="2.3" height="3.1" fill="#006400"/>
<rect x="612.3" y="398.75" width="2.0" height="3.1" fill="#006400"/>
<rect x="616.2" y="398.75" width="0.8" height="3.1" fill="#006400" opacity="0.9"/>
<rect x="543.8" y="397.55" width="74.4" height="1.3" fill="#006400"/>
<rect x="543.8" y="401.75" width="74.4" height="1.3" fill="#006400" opacity="0.85"/>
<rect x="543.8" y="411.45" width="74.4" height="5.5" fill="#fff"/>
<rect x="543.9" y="412.65" width="3.4" height="3.1" fill="#006400" opacity="0.9"/>
<rect x="551.8" y="412.65" width="1.5" height="3.1" fill="#006400" opacity="0.7"/>
<rect x="554.2" y="412.65" width="1.4" height="3.1" fill="#006400" opacity="0.7"/>
<rect x="557.0" y="412.65" width="2.0" height="3.1" fill="#006400" opacity="0.8"/>
<rect x="560.5" y="412.65" width="3.7" height="3.1" fill="#006400"/>
<rect x="564.2" y="412.65" width="0.9" height="3.1" fill="#006400" opacity="0.75"/>
<rect x="565.1" y="412.65" width="1.7" height="3.1" fill="#006400"/>
<rect x="568.5" y="412.65" width="1.5" height="3.1" fill="#006400"/>
<rect x="571.0" y="412.65" width="1.6" height="3.1" fill="#006400"/>
<rect x="574.3" y="412.65" width="2.5" height="3.1" fill="#006400" opacity="0.6"/>
<rect x="579.0" y="412.65" width="1.0" height="3.1" fill="#006400" opacity="0.3"/>
<rect x="581.7" y="412.65" width="3.4" height="3.1" fill="#006400"/>
<rect x="585.1" y="412.65" width="0.6" height="3.1" fill="#006400" opacity="0.65"/>
<rect x="585.7" y="412.65" width="1.7" height="3.1" fill="#006400"/>
<rect x="587.4" y="412.65" width="0.5" height="3.1" fill="#006400" opacity="0.8"/>
<rect x="587.9" y="412.65" width="2.1" height="3.1" fill="#006400"/>
<rect x="590.0" y="412.65" width="0.6" height="3.1" fill="#006400" opacity="0.35"/>
<rect x="590.6" y="412.65" width="3.1" height="3.1" fill="#006400"/>
<rect x="593.7" y="412.65" width="0.6" height="3.1" fill="#006400" opacity="0.6"/>
<rect x="594.3" y="412.65" width="5.5" height="3.1" fill="#006400"/>
<rect x="601.5" y="412.65" width="0.8" height="3.1" fill="#006400" opacity="0.9"/>
<rect x="603.8" y="412.65" width="3.1" height="3.1" fill="#006400"/>
<rect x="608.0" y="412.65" width="2.3" height="3.1" fill="#006400"/>
<rect x="612.3" y="412.65" width="2.0" height="3.1" fill="#006400"/>
<rect x="616.2" y="412.65" width="0.8" height="3.1" fill="#006400" opacity="0.9"/>
<rect x="543.8" y="411.45" width="74.4" height="1.3" fill="#006400"/>
<rect x="543.8" y="415.65" width="74.4" height="1.3" fill="#006400" opacity="0.85"/>
<path d="M580.5,422.1V433.6M584.8,422.1V433.6M587.7,422.1V433.6M598.6,422.1V433.6M599.6,422.1V433.6M600.6,422.1V433.6M601.5,422.1V433.6M603.7,422.1V433.6" stroke="#1c1c1c" stroke-width="1.05" fill="none"/>
<rect x="543.8" y="425.15" width="74.4" height="5.5" fill="#fff"/>
<rect x="572.3" y="426.35" width="1.3" height="3.1" fill="#9acd32" opacity="0.6"/>
<rect x="575.3" y="426.35" width="2.7" height="3.1" fill="#9acd32" opacity="0.7"/>
<rect x="579.0" y="426.35" width="1.0" height="3.1" fill="#9acd32" opacity="0.3"/>
<rect x="581.7" y="426.35" width="3.4" height="3.1" fill="#9acd32"/>
<rect x="585.1" y="426.35" width="0.6" height="3.1" fill="#9acd32" opacity="0.65"/>
<rect x="585.7" y="426.35" width="1.7" height="3.1" fill="#9acd32"/>
<rect x="587.4" y="426.35" width="0.5" height="3.1" fill="#9acd32" opacity="0.8"/>
<rect x="587.9" y="426.35" width="2.1" height="3.1" fill="#9acd32"/>
<rect x="590.0" y="426.35" width="0.6" height="3.1" fill="#9acd32" opacity="0.35"/>
<rect x="590.6" y="426.35" width="3.1" height="3.1" fill="#9acd32"/>
<rect x="593.7" y="426.35" width="0.6" height="3.1" fill="#9acd32" opacity="0.6"/>
<rect x="594.3" y="426.35" width="5.5" height="3.1" fill="#9acd32"/>
<rect x="601.5" y="426.35" width="0.8" height="3.1" fill="#9acd32" opacity="0.9"/>
<rect x="603.8" y="426.35" width="3.1" height="3.1" fill="#9acd32"/>
<rect x="608.0" y="426.35" width="2.3" height="3.1" fill="#9acd32"/>
<rect x="612.3" y="426.35" width="2.0" height="3.1" fill="#9acd32"/>
<rect x="616.2" y="426.35" width="0.8" height="3.1" fill="#9acd32" opacity="0.9"/>
<rect x="543.8" y="425.15" width="74.4" height="1.3" fill="#9acd32"/>
<rect x="543.8" y="429.35" width="74.4" height="1.3" fill="#9acd32" opacity="0.85"/>
<rect x="543.8" y="439.35" width="74.4" height="5.5" fill="#fff"/>
<rect x="560.5" y="440.55" width="3.7" height="3.1" fill="#006400"/>
<rect x="564.2" y="440.55" width="0.9" height="3.1" fill="#006400" opacity="0.75"/>
<rect x="565.1" y="440.55" width="1.7" height="3.1" fill="#006400"/>
<rect x="568.5" y="440.55" width="1.5" height="3.1" fill="#006400"/>
<rect x="571.0" y="440.55" width="1.6" height="3.1" fill="#006400"/>
<rect x="574.3" y="440.55" width="2.5" height="3.1" fill="#006400" opacity="0.6"/>
<rect x="579.0" y="440.55" width="1.0" height="3.1" fill="#006400" opacity="0.3"/>
<rect x="581.7" y="440.55" width="3.4" height="3.1" fill="#006400"/>
<rect x="585.1" y="440.55" width="0.6" height="3.1" fill="#006400" opacity="0.65"/>
<rect x="585.7" y="440.55" width="1.7" height="3.1" fill="#006400"/>
<rect x="587.4" y="440.55" width="0.5" height="3.1" fill="#006400" opacity="0.8"/>
<rect x="587.9" y="440.55" width="2.1" height="3.1" fill="#006400"/>
<rect x="590.0" y="440.55" width="0.6" height="3.1" fill="#006400" opacity="0.35"/>
<rect x="590.6" y="440.55" width="3.1" height="3.1" fill="#006400"/>
<rect x="593.7" y="440.55" width="0.6" height="3.1" fill="#006400" opacity="0.6"/>
<rect x="594.3" y="440.55" width="5.5" height="3.1" fill="#006400"/>
<rect x="601.5" y="440.55" width="0.8" height="3.1" fill="#006400" opacity="0.9"/>
<rect x="603.8" y="440.55" width="3.1" height="3.1" fill="#006400"/>
<rect x="608.0" y="440.55" width="2.3" height="3.1" fill="#006400"/>
<rect x="612.3" y="440.55" width="2.0" height="3.1" fill="#006400"/>
<rect x="616.2" y="440.55" width="0.8" height="3.1" fill="#006400" opacity="0.9"/>
<rect x="543.8" y="439.35" width="74.4" height="1.3" fill="#006400"/>
<rect x="543.8" y="443.55" width="74.4" height="1.3" fill="#006400" opacity="0.85"/>
<path d="M560.3,450.2V461.8M568.0,450.2V461.8M570.1,450.2V461.8M580.5,450.2V461.8M585.5,450.2V461.8M587.6,450.2V461.8M588.6,450.2V461.8" stroke="#1c1c1c" stroke-width="1.05" fill="none"/>
<rect x="543.8" y="453.25" width="74.4" height="5.5" fill="#fff"/>
<rect x="560.5" y="454.45" width="3.7" height="3.1" fill="#9acd32"/>
<rect x="564.2" y="454.45" width="0.9" height="3.1" fill="#9acd32" opacity="0.75"/>
<rect x="565.1" y="454.45" width="1.7" height="3.1" fill="#9acd32"/>
<rect x="568.5" y="454.45" width="1.5" height="3.1" fill="#9acd32"/>
<rect x="571.0" y="454.45" width="1.6" height="3.1" fill="#9acd32"/>
<rect x="574.3" y="454.45" width="2.5" height="3.1" fill="#9acd32" opacity="0.6"/>
<rect x="579.0" y="454.45" width="1.0" height="3.1" fill="#9acd32" opacity="0.3"/>
<rect x="581.7" y="454.45" width="3.4" height="3.1" fill="#9acd32"/>
<rect x="585.1" y="454.45" width="0.6" height="3.1" fill="#9acd32" opacity="0.65"/>
<rect x="585.7" y="454.45" width="1.7" height="3.1" fill="#9acd32"/>
<rect x="587.4" y="454.45" width="0.5" height="3.1" fill="#9acd32" opacity="0.8"/>
<rect x="587.9" y="454.45" width="2.1" height="3.1" fill="#9acd32"/>
<rect x="590.0" y="454.45" width="0.6" height="3.1" fill="#9acd32" opacity="0.35"/>
<rect x="590.6" y="454.45" width="3.1" height="3.1" fill="#9acd32"/>
<rect x="593.7" y="454.45" width="0.6" height="3.1" fill="#9acd32" opacity="0.6"/>
<rect x="594.3" y="454.45" width="5.5" height="3.1" fill="#9acd32"/>
<rect x="601.5" y="454.45" width="0.8" height="3.1" fill="#9acd32" opacity="0.9"/>
<rect x="603.8" y="454.45" width="3.1" height="3.1" fill="#9acd32"/>
<rect x="608.0" y="454.45" width="2.3" height="3.1" fill="#9acd32"/>
<rect x="612.3" y="454.45" width="2.0" height="3.1" fill="#9acd32"/>
<rect x="616.2" y="454.45" width="0.8" height="3.1" fill="#9acd32" opacity="0.9"/>
<rect x="543.8" y="453.25" width="74.4" height="1.3" fill="#9acd32"/>
<rect x="543.8" y="457.45" width="74.4" height="1.3" fill="#9acd32" opacity="0.85"/>
<path d="M568.0,464.2V475.8M570.1,464.2V475.8M580.5,464.2V475.8M585.5,464.2V475.8M587.6,464.2V475.8M588.6,464.2V475.8" stroke="#1c1c1c" stroke-width="1.05" fill="none"/>
<rect x="543.8" y="467.25" width="74.4" height="5.5" fill="#fff"/>
<rect x="560.5" y="468.45" width="3.7" height="3.1" fill="#9acd32"/>
<rect x="564.2" y="468.45" width="0.9" height="3.1" fill="#9acd32" opacity="0.75"/>
<rect x="565.1" y="468.45" width="1.7" height="3.1" fill="#9acd32"/>
<rect x="568.5" y="468.45" width="1.5" height="3.1" fill="#9acd32"/>
<rect x="571.0" y="468.45" width="1.6" height="3.1" fill="#9acd32"/>
<rect x="574.3" y="468.45" width="2.5" height="3.1" fill="#9acd32" opacity="0.6"/>
<rect x="579.0" y="468.45" width="1.0" height="3.1" fill="#9acd32" opacity="0.3"/>
<rect x="581.7" y="468.45" width="3.4" height="3.1" fill="#9acd32"/>
<rect x="585.1" y="468.45" width="0.6" height="3.1" fill="#9acd32" opacity="0.65"/>
<rect x="585.7" y="468.45" width="1.7" height="3.1" fill="#9acd32"/>
<rect x="587.4" y="468.45" width="0.5" height="3.1" fill="#9acd32" opacity="0.8"/>
<rect x="587.9" y="468.45" width="2.1" height="3.1" fill="#9acd32"/>
<rect x="590.0" y="468.45" width="0.6" height="3.1" fill="#9acd32" opacity="0.35"/>
<rect x="590.6" y="468.45" width="3.1" height="3.1" fill="#9acd32"/>
<rect x="593.7" y="468.45" width="0.6" height="3.1" fill="#9acd32" opacity="0.6"/>
<rect x="594.3" y="468.45" width="5.5" height="3.1" fill="#9acd32"/>
<rect x="601.5" y="468.45" width="0.8" height="3.1" fill="#9acd32" opacity="0.9"/>
<rect x="603.8" y="468.45" width="3.1" height="3.1" fill="#9acd32"/>
<rect x="608.0" y="468.45" width="2.3" height="3.1" fill="#9acd32"/>
<rect x="612.3" y="468.45" width="2.0" height="3.1" fill="#9acd32"/>
<rect x="616.2" y="468.45" width="0.8" height="3.1" fill="#9acd32" opacity="0.9"/>
<rect x="543.8" y="467.25" width="74.4" height="1.3" fill="#9acd32"/>
<rect x="543.8" y="471.45" width="74.4" height="1.3" fill="#9acd32" opacity="0.85"/>
<path d="M560.3,478.1V489.6M568.0,478.1V489.6M570.1,478.1V489.6M580.5,478.1V489.6M585.5,478.1V489.6M587.6,478.1V489.6M588.6,478.1V489.6" stroke="#1c1c1c" stroke-width="1.05" fill="none"/>
<rect x="543.8" y="481.15" width="74.4" height="5.5" fill="#fff"/>
<rect x="560.5" y="482.35" width="3.7" height="3.1" fill="#9acd32"/>
<rect x="564.2" y="482.35" width="0.9" height="3.1" fill="#9acd32" opacity="0.75"/>
<rect x="565.1" y="482.35" width="1.7" height="3.1" fill="#9acd32"/>
<rect x="568.5" y="482.35" width="1.5" height="3.1" fill="#9acd32"/>
<rect x="571.0" y="482.35" width="1.6" height="3.1" fill="#9acd32"/>
<rect x="574.3" y="482.35" width="2.5" height="3.1" fill="#9acd32" opacity="0.6"/>
<rect x="579.0" y="482.35" width="1.0" height="3.1" fill="#9acd32" opacity="0.3"/>
<rect x="581.7" y="482.35" width="3.4" height="3.1" fill="#9acd32"/>
<rect x="585.1" y="482.35" width="0.6" height="3.1" fill="#9acd32" opacity="0.65"/>
<rect x="585.7" y="482.35" width="1.7" height="3.1" fill="#9acd32"/>
<rect x="587.4" y="482.35" width="0.5" height="3.1" fill="#9acd32" opacity="0.8"/>
<rect x="587.9" y="482.35" width="2.1" height="3.1" fill="#9acd32"/>
<rect x="590.0" y="482.35" width="0.6" height="3.1" fill="#9acd32" opacity="0.35"/>
<rect x="590.6" y="482.35" width="3.1" height="3.1" fill="#9acd32"/>
<rect x="593.7" y="482.35" width="0.6" height="3.1" fill="#9acd32" opacity="0.6"/>
<rect x="594.3" y="482.35" width="5.5" height="3.1" fill="#9acd32"/>
<rect x="601.5" y="482.35" width="0.8" height="3.1" fill="#9acd32" opacity="0.9"/>
<rect x="603.8" y="482.35" width="3.1" height="3.1" fill="#9acd32"/>
<rect x="608.0" y="482.35" width="2.3" height="3.1" fill="#9acd32"/>
<rect x="612.3" y="482.35" width="2.0" height="3.1" fill="#9acd32"/>
<rect x="616.2" y="482.35" width="0.8" height="3.1" fill="#9acd32" opacity="0.9"/>
<rect x="543.8" y="481.15" width="74.4" height="1.3" fill="#9acd32"/>
<rect x="543.8" y="485.35" width="74.4" height="1.3" fill="#9acd32" opacity="0.85"/>
<path d="M560.3,491.9V503.4M568.0,491.9V503.4M570.1,491.9V503.4M580.5,491.9V503.4M585.5,491.9V503.4M587.6,491.9V503.4M588.6,491.9V503.4" stroke="#1c1c1c" stroke-width="1.05" fill="none"/>
<rect x="543.8" y="494.95" width="74.4" height="5.5" fill="#fff"/>
<rect x="560.5" y="496.15" width="3.7" height="3.1" fill="#9acd32"/>
<rect x="564.2" y="496.15" width="0.9" height="3.1" fill="#9acd32" opacity="0.75"/>
<rect x="565.1" y="496.15" width="1.7" height="3.1" fill="#9acd32"/>
<rect x="568.5" y="496.15" width="1.5" height="3.1" fill="#9acd32"/>
<rect x="571.0" y="496.15" width="1.6" height="3.1" fill="#9acd32"/>
<rect x="574.3" y="496.15" width="2.5" height="3.1" fill="#9acd32" opacity="0.6"/>
<rect x="579.0" y="496.15" width="1.0" height="3.1" fill="#9acd32" opacity="0.3"/>
<rect x="581.7" y="496.15" width="3.4" height="3.1" fill="#9acd32"/>
<rect x="585.1" y="496.15" width="0.6" height="3.1" fill="#9acd32" opacity="0.65"/>
<rect x="585.7" y="496.15" width="1.7" height="3.1" fill="#9acd32"/>
<rect x="587.4" y="496.15" width="0.5" height="3.1" fill="#9acd32" opacity="0.8"/>
<rect x="587.9" y="496.15" width="2.1" height="3.1" fill="#9acd32"/>
<rect x="590.0" y="496.15" width="0.6" height="3.1" fill="#9acd32" opacity="0.35"/>
<rect x="590.6" y="496.15" width="3.1" height="3.1" fill="#9acd32"/>
<rect x="593.7" y="496.15" width="0.6" height="3.1" fill="#9acd32" opacity="0.6"/>
<rect x="594.3" y="496.15" width="5.5" height="3.1" fill="#9acd32"/>
<rect x="601.5" y="496.15" width="0.8" height="3.1" fill="#9acd32" opacity="0.9"/>
<rect x="603.8" y="496.15" width="3.1" height="3.1" fill="#9acd32"/>
<rect x="608.0" y="496.15" width="2.3" height="3.1" fill="#9acd32"/>
<rect x="612.3" y="496.15" width="2.0" height="3.1" fill="#9acd32"/>
<rect x="616.2" y="496.15" width="0.8" height="3.1" fill="#9acd32" opacity="0.9"/>
<rect x="543.8" y="494.95" width="74.4" height="1.3" fill="#9acd32"/>
<rect x="543.8" y="499.15" width="74.4" height="1.3" fill="#9acd32" opacity="0.85"/>
<rect x="543.8" y="511.05" width="74.4" height="5.5" fill="#fff"/>
<rect x="560.5" y="512.25" width="3.7" height="3.1" fill="#006400"/>
<rect x="564.2" y="512.25" width="0.9" height="3.1" fill="#006400" opacity="0.75"/>
<rect x="565.1" y="512.25" width="1.7" height="3.1" fill="#006400"/>
<rect x="568.5" y="512.25" width="1.5" height="3.1" fill="#006400"/>
<rect x="571.0" y="512.25" width="1.6" height="3.1" fill="#006400"/>
<rect x="574.3" y="512.25" width="2.5" height="3.1" fill="#006400" opacity="0.6"/>
<rect x="579.0" y="512.25" width="1.0" height="3.1" fill="#006400" opacity="0.3"/>
<rect x="581.7" y="512.25" width="3.4" height="3.1" fill="#006400"/>
<rect x="585.1" y="512.25" width="0.6" height="3.1" fill="#006400" opacity="0.65"/>
<rect x="585.7" y="512.25" width="1.7" height="3.1" fill="#006400"/>
<rect x="587.4" y="512.25" width="0.5" height="3.1" fill="#006400" opacity="0.8"/>
<rect x="587.9" y="512.25" width="2.1" height="3.1" fill="#006400"/>
<rect x="590.0" y="512.25" width="0.6" height="3.1" fill="#006400" opacity="0.35"/>
<rect x="590.6" y="512.25" width="3.1" height="3.1" fill="#006400"/>
<rect x="593.7" y="512.25" width="0.6" height="3.1" fill="#006400" opacity="0.6"/>
<rect x="594.3" y="512.25" width="5.5" height="3.1" fill="#006400"/>
<rect x="601.5" y="512.25" width="0.8" height="3.1" fill="#006400" opacity="0.9"/>
<rect x="603.8" y="512.25" width="3.1" height="3.1" fill="#006400"/>
<rect x="608.0" y="512.25" width="2.3" height="3.1" fill="#006400"/>
<rect x="612.3" y="512.25" width="2.0" height="3.1" fill="#006400"/>
<rect x="616.2" y="512.25" width="0.8" height="3.1" fill="#006400" opacity="0.9"/>
<rect x="543.8" y="511.05" width="74.4" height="1.3" fill="#006400"/>
<rect x="543.8" y="515.25" width="74.4" height="1.3" fill="#006400" opacity="0.85"/>
<rect x="543.8" y="527.35" width="74.4" height="5.5" fill="#fff"/>
<rect x="560.5" y="528.55" width="3.7" height="3.1" fill="#006400"/>
<rect x="564.2" y="528.55" width="0.9" height="3.1" fill="#006400" opacity="0.75"/>
<rect x="565.1" y="528.55" width="1.7" height="3.1" fill="#006400"/>
<rect x="568.5" y="528.55" width="1.5" height="3.1" fill="#006400"/>
<rect x="571.0" y="528.55" width="1.6" height="3.1" fill="#006400"/>
<rect x="574.3" y="528.55" width="2.5" height="3.1" fill="#006400" opacity="0.6"/>
<rect x="579.0" y="528.55" width="1.0" height="3.1" fill="#006400" opacity="0.3"/>
<rect x="581.7" y="528.55" width="3.4" height="3.1" fill="#006400"/>
<rect x="585.1" y="528.55" width="0.6" height="3.1" fill="#006400" opacity="0.65"/>
<rect x="585.7" y="528.55" width="1.7" height="3.1" fill="#006400"/>
<rect x="587.4" y="528.55" width="0.5" height="3.1" fill="#006400" opacity="0.8"/>
<rect x="587.9" y="528.55" width="2.1" height="3.1" fill="#006400"/>
<rect x="590.0" y="528.55" width="0.6" height="3.1" fill="#006400" opacity="0.35"/>
<rect x="590.6" y="528.55" width="3.1" height="3.1" fill="#006400"/>
<rect x="593.7" y="528.55" width="0.6" height="3.1" fill="#006400" opacity="0.6"/>
<rect x="594.3" y="528.55" width="5.5" height="3.1" fill="#006400"/>
<rect x="601.5" y="528.55" width="0.8" height="3.1" fill="#006400" opacity="0.9"/>
<rect x="603.8" y="528.55" width="3.1" height="3.1" fill="#006400"/>
<rect x="608.0" y="528.55" width="2.3" height="3.1" fill="#006400"/>
<rect x="612.3" y="528.55" width="2.0" height="3.1" fill="#006400"/>
<rect x="616.2" y="528.55" width="0.8" height="3.1" fill="#006400" opacity="0.9"/>
<rect x="543.8" y="527.35" width="74.4" height="1.3" fill="#006400"/>
<rect x="543.8" y="531.55" width="74.4" height="1.3" fill="#006400" opacity="0.85"/>
<path d="M560.3,538.0V549.5M568.0,538.0V549.5M570.1,538.0V549.5M580.5,538.0V549.5M585.5,538.0V549.5M587.6,538.0V549.5M588.6,538.0V549.5M604.9,538.0V549.5" stroke="#1c1c1c" stroke-width="1.05" fill="none"/>
<rect x="543.8" y="541.05" width="74.4" height="5.5" fill="#fff"/>
<rect x="560.5" y="542.25" width="3.7" height="3.1" fill="#9acd32"/>
<rect x="564.2" y="542.25" width="0.9" height="3.1" fill="#9acd32" opacity="0.75"/>
<rect x="565.1" y="542.25" width="1.7" height="3.1" fill="#9acd32"/>
<rect x="568.5" y="542.25" width="1.5" height="3.1" fill="#9acd32"/>
<rect x="571.0" y="542.25" width="1.6" height="3.1" fill="#9acd32"/>
<rect x="574.3" y="542.25" width="2.5" height="3.1" fill="#9acd32" opacity="0.6"/>
<rect x="579.0" y="542.25" width="1.0" height="3.1" fill="#9acd32" opacity="0.3"/>
<rect x="581.7" y="542.25" width="3.4" height="3.1" fill="#9acd32"/>
<rect x="585.1" y="542.25" width="0.6" height="3.1" fill="#9acd32" opacity="0.65"/>
<rect x="585.7" y="542.25" width="1.7" height="3.1" fill="#9acd32"/>
<rect x="587.4" y="542.25" width="0.5" height="3.1" fill="#9acd32" opacity="0.8"/>
<rect x="587.9" y="542.25" width="2.1" height="3.1" fill="#9acd32"/>
<rect x="590.0" y="542.25" width="0.6" height="3.1" fill="#9acd32" opacity="0.35"/>
<rect x="590.6" y="542.25" width="3.1" height="3.1" fill="#9acd32"/>
<rect x="593.7" y="542.25" width="0.6" height="3.1" fill="#9acd32" opacity="0.6"/>
<rect x="594.3" y="542.25" width="5.5" height="3.1" fill="#9acd32"/>
<rect x="601.5" y="542.25" width="0.8" height="3.1" fill="#9acd32" opacity="0.9"/>
<rect x="603.8" y="542.25" width="3.1" height="3.1" fill="#9acd32"/>
<rect x="608.0" y="542.25" width="2.3" height="3.1" fill="#9acd32"/>
<rect x="612.3" y="542.25" width="2.0" height="3.1" fill="#9acd32"/>
<rect x="616.2" y="542.25" width="0.8" height="3.1" fill="#9acd32" opacity="0.9"/>
<rect x="543.8" y="541.05" width="74.4" height="1.3" fill="#9acd32"/>
<rect x="543.8" y="545.25" width="74.4" height="1.3" fill="#9acd32" opacity="0.85"/>
<rect x="543.8" y="555.05" width="74.4" height="5.5" fill="#fff"/>
<rect x="560.5" y="556.25" width="3.7" height="3.1" fill="#006400"/>
<rect x="564.2" y="556.25" width="0.9" height="3.1" fill="#006400" opacity="0.75"/>
<rect x="565.1" y="556.25" width="1.7" height="3.1" fill="#006400"/>
<rect x="568.5" y="556.25" width="1.5" height="3.1" fill="#006400"/>
<rect x="571.0" y="556.25" width="1.6" height="3.1" fill="#006400"/>
<rect x="574.3" y="556.25" width="2.5" height="3.1" fill="#006400" opacity="0.6"/>
<rect x="579.0" y="556.25" width="1.0" height="3.1" fill="#006400" opacity="0.3"/>
<rect x="581.7" y="556.25" width="3.4" height="3.1" fill="#006400"/>
<rect x="585.1" y="556.25" width="0.6" height="3.1" fill="#006400" opacity="0.65"/>
<rect x="585.7" y="556.25" width="1.7" height="3.1" fill="#006400"/>
<rect x="587.4" y="556.25" width="0.5" height="3.1" fill="#006400" opacity="0.8"/>
<rect x="587.9" y="556.25" width="2.1" height="3.1" fill="#006400"/>
<rect x="590.0" y="556.25" width="0.6" height="3.1" fill="#006400" opacity="0.35"/>
<rect x="590.6" y="556.25" width="3.1" height="3.1" fill="#006400"/>
<rect x="593.7" y="556.25" width="0.6" height="3.1" fill="#006400" opacity="0.6"/>
<rect x="594.3" y="556.25" width="5.5" height="3.1" fill="#006400"/>
<rect x="601.5" y="556.25" width="0.8" height="3.1" fill="#006400" opacity="0.9"/>
<rect x="603.8" y="556.25" width="3.1" height="3.1" fill="#006400"/>
<rect x="608.0" y="556.25" width="2.3" height="3.1" fill="#006400"/>
<rect x="612.3" y="556.25" width="2.0" height="3.1" fill="#006400"/>
<rect x="616.2" y="556.25" width="0.8" height="3.1" fill="#006400" opacity="0.9"/>
<rect x="543.8" y="555.05" width="74.4" height="1.3" fill="#006400"/>
<rect x="543.8" y="559.25" width="74.4" height="1.3" fill="#006400" opacity="0.85"/>
<path d="M568.0,566.1V577.6M570.1,566.1V577.6M580.5,566.1V577.6M585.5,566.1V577.6M587.6,566.1V577.6M588.6,566.1V577.6" stroke="#1c1c1c" stroke-width="1.05" fill="none"/>
<rect x="543.8" y="569.15" width="74.4" height="5.5" fill="#fff"/>
<rect x="560.5" y="570.35" width="3.7" height="3.1" fill="#9acd32"/>
<rect x="564.2" y="570.35" width="0.9" height="3.1" fill="#9acd32" opacity="0.75"/>
<rect x="565.1" y="570.35" width="1.7" height="3.1" fill="#9acd32"/>
<rect x="568.5" y="570.35" width="1.5" height="3.1" fill="#9acd32"/>
<rect x="571.0" y="570.35" width="1.6" height="3.1" fill="#9acd32"/>
<rect x="574.3" y="570.35" width="2.5" height="3.1" fill="#9acd32" opacity="0.6"/>
<rect x="579.0" y="570.35" width="1.0" height="3.1" fill="#9acd32" opacity="0.3"/>
<rect x="581.7" y="570.35" width="3.4" height="3.1" fill="#9acd32"/>
<rect x="585.1" y="570.35" width="0.6" height="3.1" fill="#9acd32" opacity="0.65"/>
<rect x="585.7" y="570.35" width="1.7" height="3.1" fill="#9acd32"/>
<rect x="587.4" y="570.35" width="0.5" height="3.1" fill="#9acd32" opacity="0.8"/>
<rect x="587.9" y="570.35" width="2.1" height="3.1" fill="#9acd32"/>
<rect x="590.0" y="570.35" width="0.6" height="3.1" fill="#9acd32" opacity="0.35"/>
<rect x="590.6" y="570.35" width="3.1" height="3.1" fill="#9acd32"/>
<rect x="593.7" y="570.35" width="0.6" height="3.1" fill="#9acd32" opacity="0.6"/>
<rect x="594.3" y="570.35" width="5.5" height="3.1" fill="#9acd32"/>
<rect x="601.5" y="570.35" width="0.8" height="3.1" fill="#9acd32" opacity="0.9"/>
<rect x="603.8" y="570.35" width="3.1" height="3.1" fill="#9acd32"/>
<rect x="608.0" y="570.35" width="2.3" height="3.1" fill="#9acd32"/>
<rect x="612.3" y="570.35" width="2.0" height="3.1" fill="#9acd32"/>
<rect x="616.2" y="570.35" width="0.8" height="3.1" fill="#9acd32" opacity="0.9"/>
<rect x="543.8" y="569.15" width="74.4" height="1.3" fill="#9acd32"/>
<rect x="543.8" y="573.35" width="74.4" height="1.3" fill="#9acd32" opacity="0.85"/>
<rect x="543.8" y="582.75" width="74.4" height="5.5" fill="#fff"/>
<rect x="560.5" y="583.95" width="3.7" height="3.1" fill="#006400"/>
<rect x="564.2" y="583.95" width="0.9" height="3.1" fill="#006400" opacity="0.75"/>
<rect x="565.1" y="583.95" width="1.7" height="3.1" fill="#006400"/>
<rect x="568.5" y="583.95" width="1.5" height="3.1" fill="#006400"/>
<rect x="571.0" y="583.95" width="1.6" height="3.1" fill="#006400"/>
<rect x="574.3" y="583.95" width="2.5" height="3.1" fill="#006400" opacity="0.6"/>
<rect x="579.0" y="583.95" width="1.0" height="3.1" fill="#006400" opacity="0.3"/>
<rect x="581.7" y="583.95" width="3.4" height="3.1" fill="#006400"/>
<rect x="585.1" y="583.95" width="0.6" height="3.1" fill="#006400" opacity="0.65"/>
<rect x="585.7" y="583.95" width="1.7" height="3.1" fill="#006400"/>
<rect x="587.4" y="583.95" width="0.5" height="3.1" fill="#006400" opacity="0.8"/>
<rect x="587.9" y="583.95" width="2.1" height="3.1" fill="#006400"/>
<rect x="590.0" y="583.95" width="0.6" height="3.1" fill="#006400" opacity="0.35"/>
<rect x="590.6" y="583.95" width="3.1" height="3.1" fill="#006400"/>
<rect x="593.7" y="583.95" width="0.6" height="3.1" fill="#006400" opacity="0.6"/>
<rect x="594.3" y="583.95" width="5.5" height="3.1" fill="#006400"/>
<rect x="601.5" y="583.95" width="0.8" height="3.1" fill="#006400" opacity="0.9"/>
<rect x="603.8" y="583.95" width="3.1" height="3.1" fill="#006400"/>
<rect x="608.0" y="583.95" width="2.3" height="3.1" fill="#006400"/>
<rect x="612.3" y="583.95" width="2.0" height="3.1" fill="#006400"/>
<rect x="616.2" y="583.95" width="0.8" height="3.1" fill="#006400" opacity="0.9"/>
<rect x="543.8" y="582.75" width="74.4" height="1.3" fill="#006400"/>
<rect x="543.8" y="586.95" width="74.4" height="1.3" fill="#006400" opacity="0.85"/>
<rect x="543.8" y="596.65" width="74.4" height="5.5" fill="#fff"/>
<rect x="560.5" y="597.85" width="3.7" height="3.1" fill="#006400"/>
<rect x="564.2" y="597.85" width="0.9" height="3.1" fill="#006400" opacity="0.75"/>
<rect x="565.1" y="597.85" width="1.7" height="3.1" fill="#006400"/>
<rect x="568.5" y="597.85" width="1.5" height="3.1" fill="#006400"/>
<rect x="571.0" y="597.85" width="1.6" height="3.1" fill="#006400"/>
<rect x="574.3" y="597.85" width="2.5" height="3.1" fill="#006400" opacity="0.6"/>
<rect x="579.0" y="597.85" width="1.0" height="3.1" fill="#006400" opacity="0.3"/>
<rect x="581.7" y="597.85" width="3.4" height="3.1" fill="#006400"/>
<rect x="585.1" y="597.85" width="0.6" height="3.1" fill="#006400" opacity="0.65"/>
<rect x="585.7" y="597.85" width="1.7" height="3.1" fill="#006400"/>
<rect x="587.4" y="597.85" width="0.5" height="3.1" fill="#006400" opacity="0.8"/>
<rect x="587.9" y="597.85" width="2.1" height="3.1" fill="#006400"/>
<rect x="590.0" y="597.85" width="0.6" height="3.1" fill="#006400" opacity="0.35"/>
<rect x="590.6" y="597.85" width="3.1" height="3.1" fill="#006400"/>
<rect x="593.7" y="597.85" width="0.6" height="3.1" fill="#006400" opacity="0.6"/>
<rect x="594.3" y="597.85" width="5.5" height="3.1" fill="#006400"/>
<rect x="601.5" y="597.85" width="0.8" height="3.1" fill="#006400" opacity="0.9"/>
<rect x="603.8" y="597.85" width="3.1" height="3.1" fill="#006400"/>
<rect x="608.0" y="597.85" width="2.3" height="3.1" fill="#006400"/>
<rect x="612.3" y="597.85" width="2.0" height="3.1" fill="#006400"/>
<rect x="616.2" y="597.85" width="0.8" height="3.1" fill="#006400" opacity="0.9"/>
<rect x="543.8" y="596.65" width="74.4" height="1.3" fill="#006400"/>
<rect x="543.8" y="600.85" width="74.4" height="1.3" fill="#006400" opacity="0.85"/>
<rect x="543.8" y="611.85" width="74.4" height="5.5" fill="#fff"/>
<rect x="560.7" y="613.05" width="4.3" height="3.1" fill="#006400"/>
<rect x="566.5" y="613.05" width="0.9" height="3.1" fill="#006400"/>
<rect x="568.3" y="613.05" width="1.1" height="3.1" fill="#006400"/>
<rect x="571.6" y="613.05" width="1.4" height="3.1" fill="#006400" opacity="0.9"/>
<rect x="547.5" y="613.05" width="0.7" height="3.1" fill="#006400" opacity="0.15"/>
<rect x="549.5" y="613.05" width="0.7" height="3.1" fill="#006400" opacity="0.15"/>
<rect x="575.3" y="613.05" width="1.9" height="3.1" fill="#9acd32" opacity="0.8"/>
<rect x="543.8" y="611.85" width="74.4" height="1.3" fill="#006400"/>
<rect x="543.8" y="616.05" width="74.4" height="1.3" fill="#006400" opacity="0.85"/>
<text class="t12" x="14.4" y="648.9">C</text>
<rect x="80.4" y="665.3" width="602.9" height="22.8" fill="#ff0000" stroke="#3a2cf0" stroke-width="1"/>
<text class="tl" x="-0.3" y="674.3">Homo Sapiens</text>
<text class="tl" x="-0.3" y="685.9">Mus musculus</text>
<g transform="translate(81.7,0) scale(1.1049,1)"><text class="seq" x="0" y="674.5" style="fill:#fff">RCFTRPAHLIRHRMLHTGERPFPCTECEKRFTERSKLIDHYRTHTGVRPFTCTVCGKSFIRKDHLRKHQRN</text><text class="seq" x="0" y="686.6" style="fill:#fff">RCFTRPAHLIRHRMLHTGERPFPCTECEKRFTERSKLIDHYRTHTGVRPFTCTVCGKSFIRKDHLRKHQRN</text></g>
<text class="rul" transform="translate(102.7,655.8) scale(1.1,1)" x="0" y="0">520</text>
<rect x="102.0" y="659.1" width="1.6" height="1.6" fill="#000"/>
<text class="rul" transform="translate(182.0,655.8) scale(1.1,1)" x="0" y="0">530</text>
<rect x="183.4" y="659.1" width="1.6" height="1.6" fill="#000"/>
<text class="rul" transform="translate(271.8,655.8) scale(1.1,1)" x="0" y="0">540</text>
<rect x="272.0" y="659.1" width="1.6" height="1.6" fill="#000"/>
<text class="rul" transform="translate(356.2,655.8) scale(1.1,1)" x="0" y="0">550</text>
<rect x="357.1" y="659.1" width="1.6" height="1.6" fill="#000"/>
<text class="rul" transform="translate(439.0,655.8) scale(1.1,1)" x="0" y="0">560</text>
<rect x="438.5" y="659.1" width="1.6" height="1.6" fill="#000"/>
<text class="rul" transform="translate(525.0,655.8) scale(1.1,1)" x="0" y="0">570</text>
<rect x="524.3" y="659.1" width="1.6" height="1.6" fill="#000"/>
<text class="rul" transform="translate(607.1,655.8) scale(1.1,1)" x="0" y="0">580</text>
<rect x="607.1" y="659.1" width="1.6" height="1.6" fill="#000"/>
<path d="M80.4,688.6 L299.5,740.3" stroke="#000" stroke-width="1.3" stroke-dasharray="6.5,4" fill="none"/>
<path d="M400,741 L684,688.6" stroke="#000" stroke-width="1.3" stroke-dasharray="6.5,4" fill="none"/>
<path d="M118.5,741.2H299.5M400,741.2H427.4M110.2,783.4H299.5M400,783.4H426.8" stroke="#000" stroke-width="2.8" fill="none"/>
<rect x="299.5" y="725.8" width="100.5" height="29.4" fill="#fff" stroke="#000" stroke-width="1.3"/>
<rect x="299.5" y="771.6" width="100.5" height="30.4" fill="#fff" stroke="#000" stroke-width="1.3"/>
<text class="t12" x="30" y="746">Homo Sapiens</text>
<text class="t12" x="30" y="787.7">Mus Musculus</text>
<text class="t12" x="350" y="737.6" text-anchor="middle">Putative DNA-</text>
<text class="t12" x="349.8" y="751.7" text-anchor="middle">binding domain</text>
<text class="t12" x="350" y="784.1" text-anchor="middle">Putative DNA-</text>
<text class="t12" x="349.8" y="798.2" text-anchor="middle">binding domain</text>
<text class="t12" x="278.6" y="723.6">518</text><text class="t12" x="391" y="723.6">588</text>
<text class="t12" x="278.6" y="770.6">524</text><text class="t12" x="391" y="770.6">594</text>
<text class="t12" x="433.4" y="746.5">645 aa</text><text class="t12" x="443.6" y="790.2">652 aa</text>
</svg></body></html>
